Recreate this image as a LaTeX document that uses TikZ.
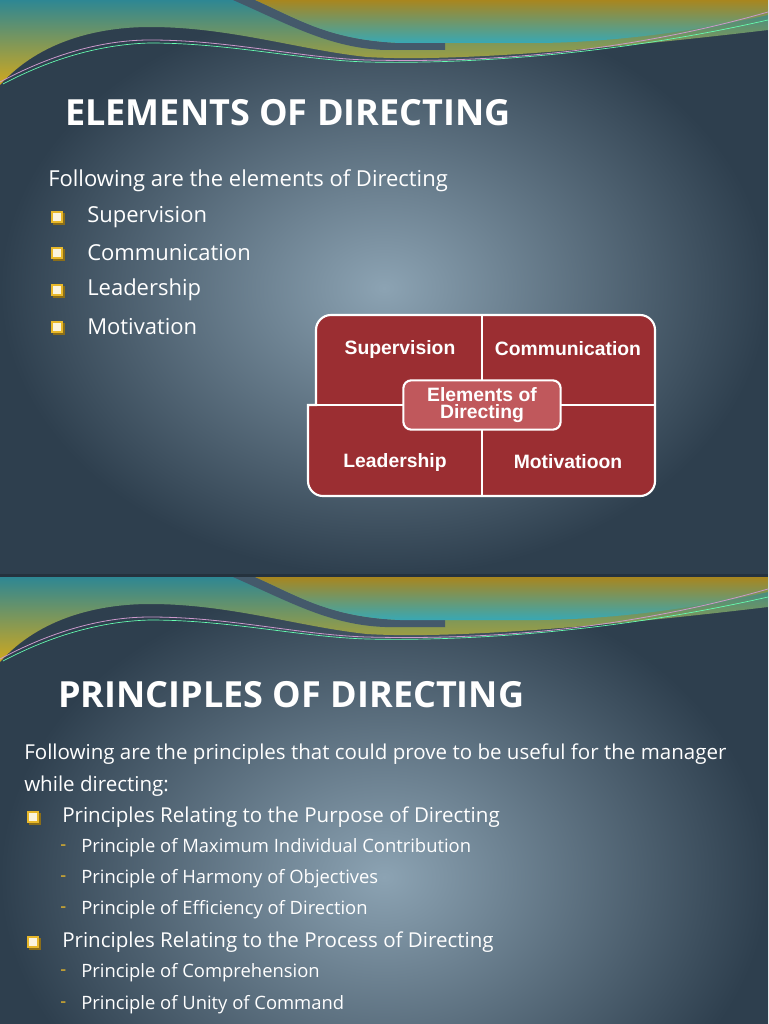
\documentclass[tikz,border=0pt]{standalone}
\usepackage{fontspec}
\setmainfont{Open Sans}
\newfontfamily\arialb{Liberation Sans}[BoldFont={Liberation Sans Bold}]
\definecolor{bgin}{HTML}{8CA3B3}
\definecolor{bgout}{HTML}{2E3F4E}
\definecolor{bteal}{HTML}{2E8793}
\definecolor{byel}{HTML}{D0A81E}
\definecolor{borng}{HTML}{A8861F}
\definecolor{bcyan}{HTML}{38A8B4}
\definecolor{swoosh}{HTML}{44596B}
\definecolor{cellred}{HTML}{9B2E32}
\definecolor{cenred}{HTML}{C0585C}
\definecolor{bulyel}{HTML}{E8B82A}
\tikzset{
  title/.style={anchor=west,text=white,font=\fontsize{27}{30}\selectfont\bfseries,inner sep=0},
  body/.style={anchor=west,text=white,font=\fontsize{16.5}{20}\selectfont,inner sep=0},
  bodyb/.style={anchor=west,text=white,font=\fontsize{15.4}{19}\selectfont,inner sep=0},
  sub/.style={anchor=west,text=white,font=\fontsize{13.8}{16}\selectfont,inner sep=0},
  cell/.style={fill=cellred,draw=white,line width=1.6pt},
  celltxt/.style={text=white,font=\arialb\fontsize{14.5}{16}\selectfont\bfseries,align=center},
}
\newcommand\mybanner{%
  \shade[top color=bteal,bottom color=byel] (0,0) -- (768,0) -- (768,30)
     .. controls (600,50) and (450,62) .. (367,57)
     .. controls (300,50) and (230,27) .. (150,27)
     .. controls (100,27) and (40,40) .. (0,85) -- cycle;
  \fill[swoosh] (233,0) .. controls (290,25) and (330,48) .. (385,50) -- (445,50) -- (445,43) -- (400,43)
     .. controls (330,40) and (300,20) .. (255,0) -- cycle;
  \shade[top color=borng,bottom color=bcyan] (255,0) -- (768,0) -- (768,15)
     .. controls (700,30) and (620,42) .. (540,43) -- (400,43)
     .. controls (330,40) and (300,20) .. (255,0) -- cycle;
  \draw[violet!40!white,line width=0.6pt] (0,82) .. controls (60,50) and (110,40) .. (150,40)
     .. controls (230,40) and (300,58) .. (367,60) .. controls (450,62) and (600,60) .. (768,12);
  \draw[green!50!cyan!60!white,line width=0.5pt] (3,84) .. controls (60,54) and (110,44) .. (150,43)
     .. controls (230,43) and (300,60) .. (367,62) .. controls (450,64) and (600,58) .. (768,20);
}
\newcommand\mybullet[1]{%
  \fill[bulyel!60!black] ($(#1)+(-4,-4)$) rectangle ($(#1)+(8,8)$);
  \fill[bulyel] ($(#1)+(-6,-6)$) rectangle ($(#1)+(6,6)$);
  \fill[white!85!bulyel] ($(#1)+(-4,-4)$) rectangle ($(#1)+(4,4)$);
}
\usetikzlibrary{calc}
\begin{document}
\begin{tikzpicture}[x=0.75pt,y=-0.75pt]
\useasboundingbox (0,0) rectangle (768,1024);
% slide 1
\shade[inner color=bgin,outer color=bgout] (0,0) rectangle (768,576);
\mybanner
\node[title] (t1) at (65,113) {ELEMENTS OF DIRECTING};
\node[body] (b0) at (48,181) {Following are the elements of Directing};
\foreach \y/\t [count=\i] in {217/Supervision,253/Communication,290/Leadership,327/Motivation}{
  \coordinate (bu\i) at (57,\y);
  \mybullet{bu\i}
  \node[body] (e\i) at (87,\y) {\t};
}
% diagram
\draw[cell] (308,481) -- (308,405) -- (316,405) -- (316,330) arc (180:270:15) -- (640,315) arc (270:360:15) -- (655,481) arc (0:90:15) -- (323,496) arc (90:180:15) -- cycle;
\draw[white,line width=1.6pt] (482,315) -- (482,496) (308,405) -- (655,405);
\node[celltxt] (sup) at (400,349) {Supervision};
\node[celltxt] (com) at (568,349) {Communication};
\node[celltxt] (lea) at (395,462) {Leadership};
\node[celltxt] (mot) at (568,462) {Motivatioon};
\node[cell,fill=cenred,rounded corners=6pt,minimum width=118pt,minimum height=37pt,celltxt,inner sep=0] (cen) at (482,405) {Elements of\\[-3pt]Directing};
% slide 2
\fill[bgout!80!black] (0,574) rectangle (768,577);
\begin{scope}[shift={(0,577)}]
\shade[inner color=bgin,outer color=bgout] (0,0) rectangle (768,600);
\mybanner
\end{scope}
\node[title] (t2) at (58,695) {PRINCIPLES OF DIRECTING};
\node[bodyb] (p0) at (24,754) {Following are the principles that could prove to be useful for the manager};
\node[bodyb] (p1) at (24,786) {while directing:};
\coordinate (q1) at (33,817); \mybullet{q1}
\node[bodyb] (h1) at (62,817) {Principles Relating to the Purpose of Directing};
\coordinate (q2) at (33,942); \mybullet{q2}
\node[bodyb] (h2) at (62,942) {Principles Relating to the Process of Directing};
\foreach \y/\t [count=\i] in {848/Principle of Maximum Individual Contribution,879/Principle of Harmony of Objectives,910/Principle of Efficiency of Direction,973/Principle of Comprehension,1005/Principle of Unity of Command}{
  \node[sub,text=bulyel] (d\i) at (60,\y) {-};
  \node[sub] (s\i) at (81,\y) {\t};
}
\end{tikzpicture}
\end{document}
